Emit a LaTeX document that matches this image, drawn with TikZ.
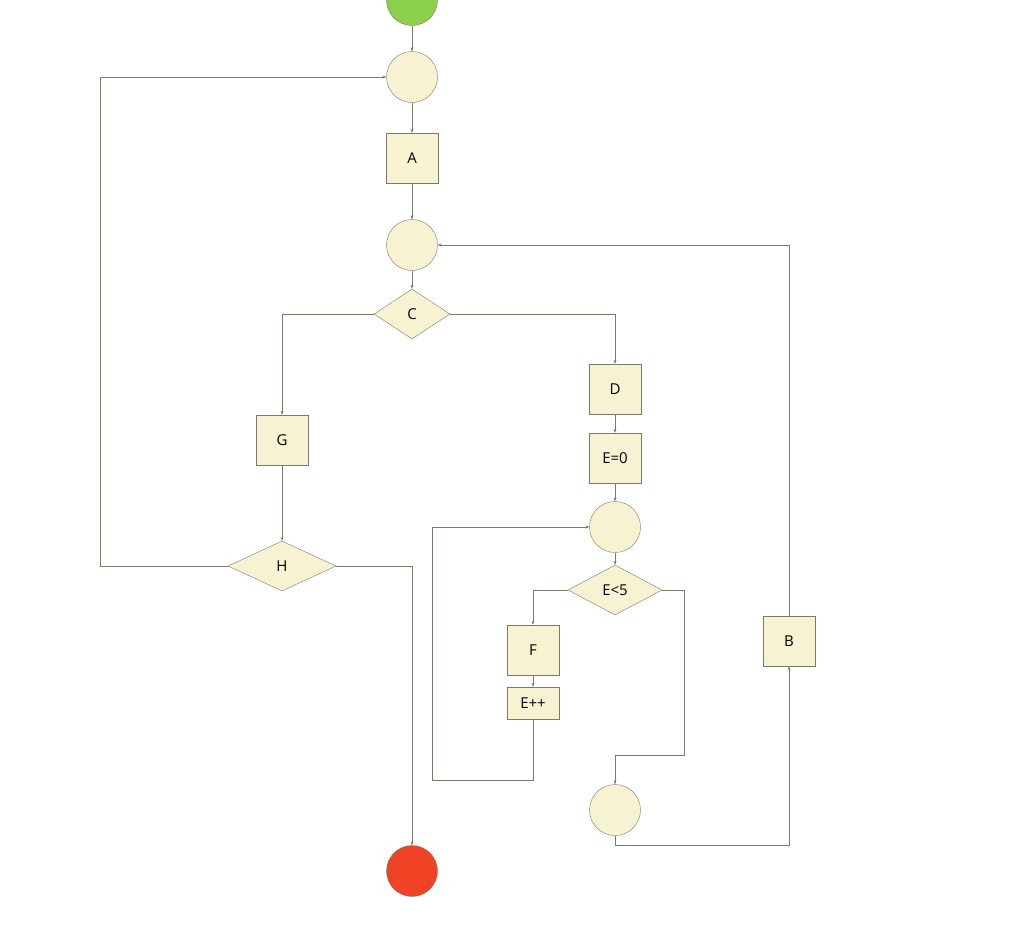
\documentclass[tikz,border=0pt]{standalone}
\usepackage{fontspec}
\setmainfont{Open Sans}
\usetikzlibrary{shapes.geometric,arrows.meta}
\definecolor{cream}{HTML}{F7F3D2}
\definecolor{edge}{HTML}{7A7A6A}
\definecolor{startc}{HTML}{8BCF4A}
\definecolor{endc}{HTML}{F04325}
\begin{document}
\begin{tikzpicture}[x=1pt,y=-1pt,
  every node/.style={font=\fontsize{15}{17}\selectfont},
  circ/.style={circle,draw=edge,fill=cream,minimum size=51pt,inner sep=0pt},
  boxn/.style={rectangle,draw=edge,fill=cream,minimum width=52pt,minimum height=50pt,inner sep=0pt},
  dia/.style={diamond,draw=edge,fill=cream,aspect=1.5,inner sep=0pt,minimum height=50pt},
  conn/.style={draw=edge,line width=0.6pt,-{Stealth[length=4pt,width=3pt]}}]
\useasboundingbox (0,0) rectangle (1024,924);
\node[circ,fill=startc] (s) at (412,0) {};
\node[circ] (c1) at (412,77) {};
\node[boxn] (A) at (412,158) {A};
\node[circ] (c2) at (412,245) {};
\node[dia,minimum width=76pt] (C) at (412,314) {C};
\node[boxn] (D) at (615,389) {D};
\node[boxn] (E0) at (615,458) {E=0};
\node[circ] (c3) at (615,527) {};
\node[dia,minimum width=94pt] (E5) at (615,590) {E<5};
\node[boxn] (F) at (533,650) {F};
\node[boxn,minimum height=32pt] (Epp) at (533,703) {E++};
\node[circ] (c4) at (615,810) {};
\node[boxn] (B) at (789,641) {B};
\node[boxn] (G) at (282,440) {G};
\node[dia,minimum width=108pt] (H) at (282,566) {H};
\node[circ,fill=endc] (e) at (412,871) {};
\draw[conn] (s) -- (c1);
\draw[conn] (c1) -- (A);
\draw[conn] (A) -- (c2);
\draw[conn] (c2) -- (C);
\draw[conn] (C.west) -| (G.north);
\draw[conn] (C.east) -| (D.north);
\draw[conn] (D) -- (E0);
\draw[conn] (E0) -- (c3);
\draw[conn] (c3) -- (E5);
\draw[conn] (E5.west) -| (F.north);
\draw[conn] (F) -- (Epp);
\draw[conn] (Epp.south) |- (432,780) |- (c3.west);
\draw[conn] (E5.east) -- (684,590) -- (684,755) -| (c4.north);
\draw[conn] (c4.south) |- (789,845) -- (B.south);
\draw[conn] (B.north) |- (c2.east);
\draw[conn] (G) -- (H);
\draw[conn] (H.west) -- (100,566) |- (c1.west);
\draw[conn] (H.east) -| (e.north);
\end{tikzpicture}
\end{document}
